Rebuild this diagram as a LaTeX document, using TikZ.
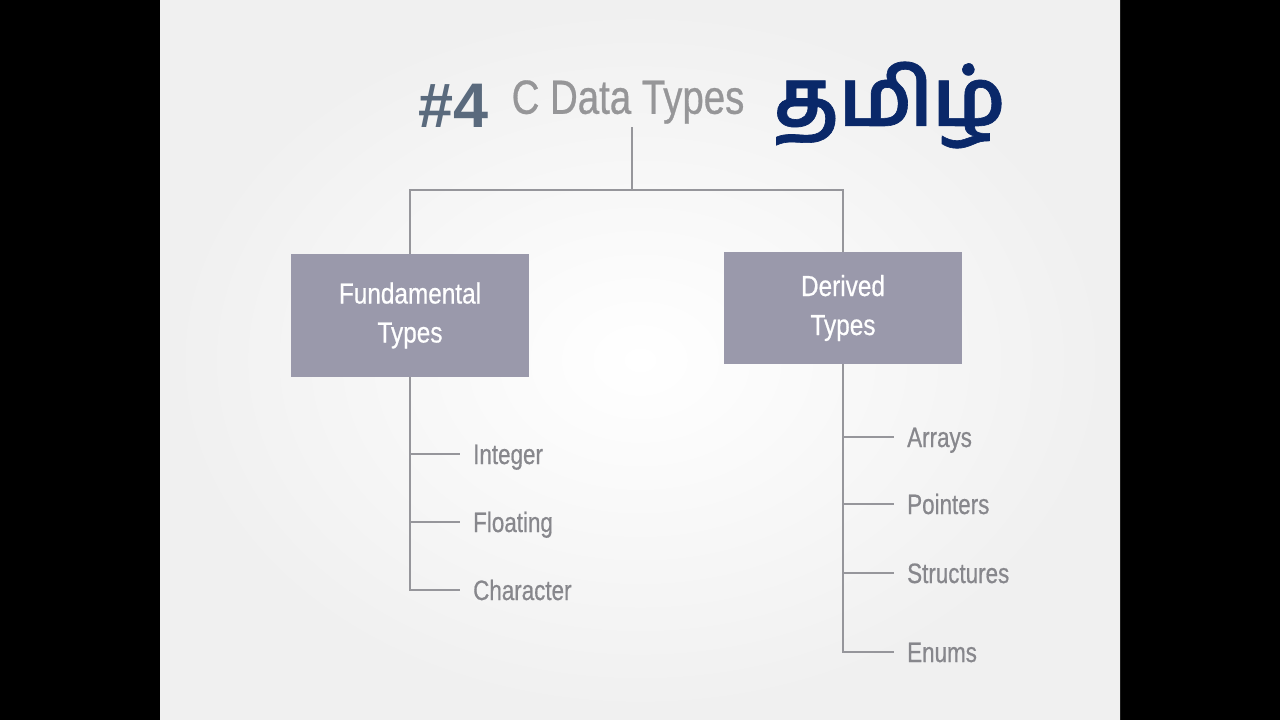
\documentclass[tikz,border=0pt]{standalone}
\usepackage{fontspec}
\setmainfont{Liberation Sans}
\newfontfamily\narrowfont[FakeStretch=0.8,FakeBold=0.6]{Liberation Sans}
\newfontfamily\boxfont[FakeStretch=0.84,FakeBold=0.6]{Liberation Sans}
\newfontfamily\tamilfont[Script=Tamil,FakeBold=0.8]{Hind Madurai}
\usetikzlibrary{positioning}

\definecolor{boxgray}{RGB}{154,153,171}
\definecolor{linegray}{RGB}{150,150,155}
\definecolor{labelgray}{RGB}{135,135,140}
\definecolor{titlegray}{RGB}{150,150,152}
\definecolor{hashblue}{RGB}{90,106,125}
\definecolor{tamilblue}{RGB}{10,40,105}

\tikzset{
  typebox/.style={fill=boxgray, text=white, minimum width=238pt, align=center,
    font=\boxfont\fontsize{29}{39}\selectfont},
  leaf/.style={anchor=west, inner xsep=13pt, inner ysep=0pt, text=labelgray,
    text height=20pt, text depth=0pt, font=\narrowfont\fontsize{28}{30}\selectfont},
  link/.style={draw=linegray, line width=2.5pt},
}

\begin{document}
\begin{tikzpicture}[x=1pt,y=-1pt]
	  % Frame and background
	  \useasboundingbox (0,0) rectangle (1280,720);
	  \fill[black] (0,0) rectangle (1280,720);
	  \shade[inner color=white, outer color=gray!12] (160,0) rectangle (1120,720);
	
	  % Title
	  \node[text=hashblue, font=\bfseries\fontsize{63}{66}\selectfont] (num) at (454,106) {\#4};
	  \node[text=titlegray, font=\narrowfont\fontsize{48}{52}\selectfont] (title) at (628,102) {C Data Types};
	  \node[text=tamilblue, font=\tamilfont\bfseries\fontsize{80}{90}\selectfont] (tamil) at (890,105) {தமிழ்};
	
	  % Two main groups
	  \node[typebox, minimum height=123pt] (fund) at (410,315.5) {Fundamental\\Types};
	  \node[typebox, minimum height=112pt] (der) at (843,308) {Derived\\Types};
	
	  % Split below the title
	  \coordinate (split) at (632,190);
	  \draw[link] (split |- title.south) -- (split);
	  \draw[link] (fund.north) |- (split) -| (der.north);
	
	  % Fundamental leaves
	  \foreach \name/\txt/\y in {int/Integer/454, flo/Floating/522, chr/Character/590} {
		\node[leaf] (\name) at (460,\y) {\txt};
		\draw[link] (fund.south) |- (\name.west);
	  }
	
	  % Derived leaves
	  \foreach \name/\txt/\y in {arr/Arrays/437, ptr/Pointers/504, str/Structures/573, enm/Enums/652} {
		\node[leaf] (\name) at (894,\y) {\txt};
		\draw[link] (der.south) |- (\name.west);
	  }
\end{tikzpicture}
\end{document}
